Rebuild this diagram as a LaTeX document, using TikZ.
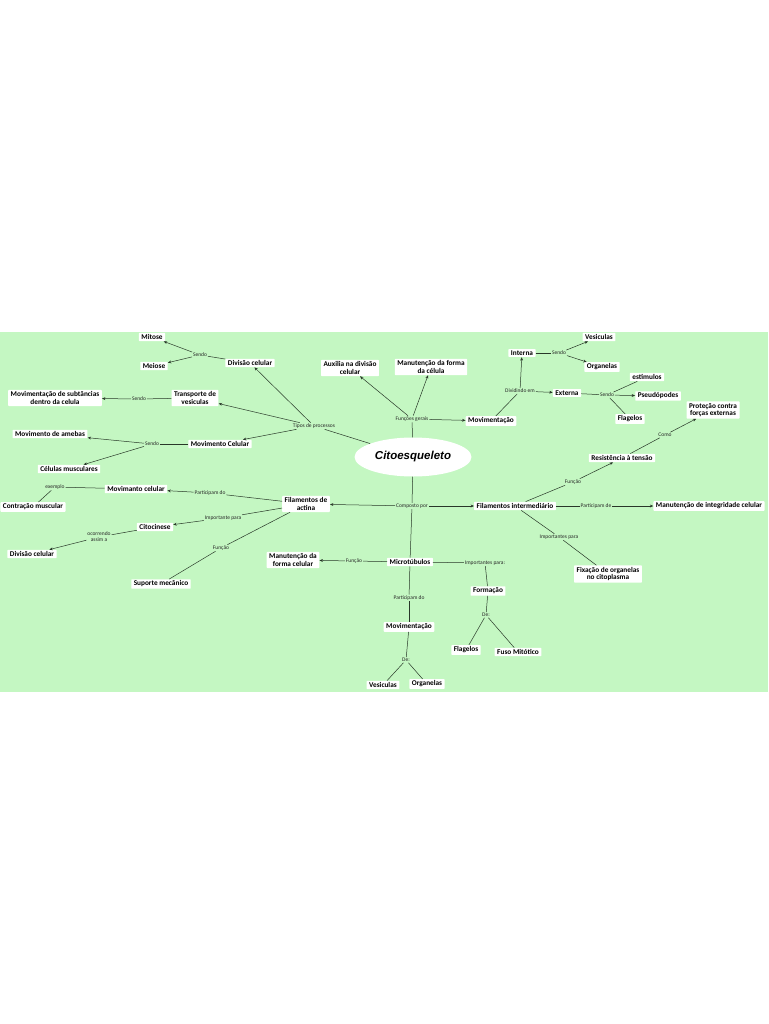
\documentclass[tikz,border=0pt]{standalone}
\usepackage{fontspec}
\setmainfont{Carlito}
\newfontfamily\titlefont{Liberation Sans}
\usetikzlibrary{arrows.meta,shapes.geometric}
\definecolor{fundo}{RGB}{196,247,194}
\definecolor{linha}{RGB}{40,55,40}

\begin{document}
\begin{tikzpicture}[x=1pt,y=-1pt,
    conceito/.style={fill=white,font=\bfseries\fontsize{7.3}{7.7}\selectfont,align=center,
      inner xsep=2.5pt,inner ysep=1.6pt,rounded corners=0.6pt},
    frase/.style={font=\fontsize{5.5}{5.8}\selectfont,text=black!85,inner sep=0.8pt,align=center},
    liga/.style={draw=linha,line width=0.5pt},
    seta/.style={liga,-{Stealth[length=3.4pt,width=2.8pt]}}]
  \useasboundingbox (0,0) rectangle (768,1024);
  \fill[fundo] (0,332) rectangle (768,692);%fundo verde

  % centro
  \node[ellipse,fill=white,minimum width=105pt,minimum height=39pt,
    font=\titlefont\bfseries\itshape\fontsize{11.5}{12}\selectfont] (cito) at (413,457) {Citoesqueleto};

  % parte superior esquerda
  \node[frase] (tipos) at (314,426) {Tipos de processos};
  \node[conceito] (divc) at (250,363) {Divisão celular};
  \node[frase] (sendoD) at (200,355) {Sendo};
  \node[conceito] (mitose) at (152,337) {Mitose};
  \node[conceito] (meiose) at (154,366) {Meiose};
  \node[conceito] (transp) at (195,398) {Transporte de\\vesiculas};
  \node[frase] (sendoT) at (139,399) {Sendo};
  \node[conceito] (movsub) at (55,398) {Movimentação de subtâncias\\dentro da celula};
  \node[conceito] (movc) at (220,444) {Movimento Celular};
  \node[frase] (sendoM) at (152,444) {Sendo};
  \node[conceito] (ameba) at (50,434) {Movimento de amebas};
  \node[conceito] (musc) at (69,469) {Células musculares};

  % parte superior direita
  \node[frase] (fg) at (412,419) {Funções gerais};
  \node[conceito] (aux) at (350,368) {Auxilia na divisão\\celular};
  \node[conceito] (manf) at (431,367) {Manutenção da forma\\da célula};
  \node[conceito] (movg) at (491,421) {Movimentação};
  \node[frase] (divem) at (520,391) {Dividindo em};
  \node[conceito] (interna) at (522,353) {Interna};
  \node[frase] (sendoI) at (559,353) {Sendo};
  \node[conceito] (vesA) at (599,337) {Vesiculas};
  \node[conceito] (orgA) at (602,367) {Organelas};
  \node[conceito] (externa) at (567,393) {Externa};
  \node[frase] (sendoE) at (607,395) {Sendo};
  \node[conceito] (estim) at (647,377) {estimulos};
  \node[conceito] (pseudo) at (658,396) {Pseudópodes};
  \node[conceito] (flagA) at (630,419) {Flagelos};

  % filamentos intermediarios
  \node[frase] (comp) at (412,506) {Composto por};
  \node[conceito] (fint) at (515,506) {Filamentos intermediário};
  \node[frase] (funI) at (573,482) {Função};
  \node[conceito] (resist) at (622,458) {Resistência à tensão};
  \node[frase] (como) at (665,435) {Como};
  \node[conceito] (prot) at (713,410) {Proteção contra\\forças externas};
  \node[frase] (partI) at (596,506) {Participam de};
  \node[conceito] (integ) at (709,506) {Manutenção de integridade celular};
  \node[frase] (impI) at (559,537) {Importantes para};
  \node[conceito] (fix) at (608,574) {Fixação de organelas\\no citoplasma};

  % filamentos de actina
  \node[conceito] (actina) at (306,504) {Filamentos de\\actina};
  \node[frase] (partA) at (210,493) {Participam do};
  \node[conceito] (movcel) at (136,489) {Movimanto celular};
  \node[frase] (exemplo) at (55,487) {exemplo};
  \node[conceito] (contr) at (33,507) {Contração muscular};
  \node[frase] (impA) at (223,518) {Importante para};
  \node[conceito] (citoc) at (155,527) {Citocinese};
  \node[frase] (ocorr) at (99,537) {ocorrendo\\assim a};
  \node[conceito] (divb) at (32,554) {Divisão celular};
  \node[frase] (funA) at (221,548) {Função};
  \node[conceito] (suporte) at (161,584) {Suporte mecânico};

  % microtubulos
  \node[conceito] (micro) at (410,562) {Microtúbulos};
  \node[frase] (funM) at (354,561) {Função};
  \node[conceito] (manfc) at (293,560) {Manutenção da\\forma celular};
  \node[frase] (impM) at (485,563) {Importantes para:};
  \node[conceito] (form) at (488,591) {Formação};
  \node[frase] (deF) at (486,615) {De:};
  \node[conceito] (flagB) at (466,650) {Flagelos};
  \node[conceito] (fuso) at (518,652) {Fuso Mitótico};
  \node[frase] (partM) at (409,598) {Participam do};
  \node[conceito] (movb) at (409,627) {Movimentação};
  \node[frase] (deM) at (406,660) {De:};
  \node[conceito] (vesB) at (383,685) {Vesiculas};
  \node[conceito] (orgB) at (427,684) {Organelas};

  % ligacoes
  \draw[liga] (cito)--(tipos);
  \draw[seta] (tipos)--(divc);
  \draw[seta] (tipos)--(transp);
  \draw[seta] (tipos)--(movc);
  \draw[liga] (divc)--(sendoD);
  \draw[seta] (sendoD)--(mitose);
  \draw[seta] (sendoD)--(meiose);
  \draw[liga] (transp)--(sendoT);
  \draw[seta] (sendoT)--(movsub);
  \draw[liga] (movc)--(sendoM);
  \draw[seta] (sendoM)--(ameba);
  \draw[seta] (sendoM)--(musc);

  \draw[liga] (cito)--(fg);
  \draw[seta] (fg)--(aux);
  \draw[seta] (fg)--(manf);
  \draw[seta] (fg)--(movg);
  \draw[liga] (movg)--(divem);
  \draw[seta] (divem)--(interna);
  \draw[seta] (divem)--(externa);
  \draw[liga] (interna)--(sendoI);
  \draw[seta] (sendoI)--(vesA);
  \draw[seta] (sendoI)--(orgA);
  \draw[liga] (externa)--(sendoE);
  \draw[liga] (sendoE)--(estim);
  \draw[seta] (sendoE)--(pseudo);
  \draw[liga] (sendoE)--(flagA);

  \draw[liga] (cito)--(comp);
  \draw[seta] (comp)--(actina);
  \draw[seta] (comp)--(fint);
  \draw[liga] (comp)--(micro);

  \draw[liga] (fint)--(funI);
  \draw[seta] (funI)--(resist);
  \draw[liga] (resist)--(como);
  \draw[seta] (como)--(prot);
  \draw[liga] (fint)--(partI);
  \draw[seta] (partI)--(integ);
  \draw[liga] (fint)--(impI);
  \draw[liga] (impI)--(fix);

  \draw[liga] (actina)--(partA);
  \draw[seta] (partA)--(movcel);
  \draw[liga] (movcel)--(exemplo);
  \draw[liga] (exemplo)--(contr);
  \draw[liga] (actina)--(impA);
  \draw[seta] (impA)--(citoc);
  \draw[liga] (citoc)--(ocorr);
  \draw[seta] (ocorr)--(divb);
  \draw[liga] (actina)--(funA);
  \draw[liga] (funA)--(suporte);

  \draw[liga] (micro)--(funM);
  \draw[seta] (funM)--(manfc);
  \draw[liga] (micro)--(impM);
  \draw[liga] (impM)--(form);
  \draw[liga] (form)--(deF);
  \draw[liga] (deF)--(flagB);
  \draw[liga] (deF)--(fuso);
  \draw[liga] (micro)--(partM);
  \draw[liga] (partM)--(movb);
  \draw[liga] (movb)--(deM);
  \draw[liga] (deM)--(vesB);
  \draw[liga] (deM)--(orgB);
\end{tikzpicture}
\end{document}
